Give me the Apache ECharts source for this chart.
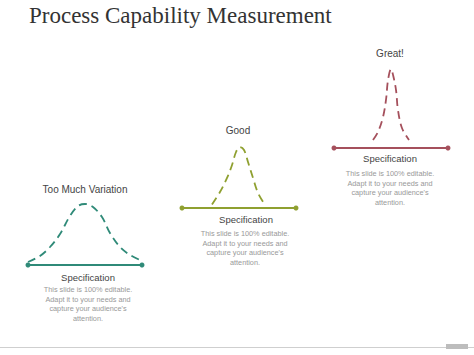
<!DOCTYPE html>
<html>
<head>
<meta charset="utf-8">
<script src="https://cdn.jsdelivr.net/npm/echarts@6/dist/echarts.min.js"></script>
<style>html,body{margin:0;padding:0;background:#fff;}#c{width:474px;height:355px;}</style>
</head>
<body>
<div id="c"></div>
<script>
// Curves: x = % across specification line, y = % of peak height
const curveTooMuch = [[0,4.9],[10.5,14.8],[19.3,29.5],[28.1,50.8],[36.8,80.3],[43.9,96.7],[50,100],[57,95],[64.9,78.7],[71.9,52.5],[80.7,29.5],[89.5,16.4],[100,6.6]];
const curveGood = [[26.3,5.7],[33.3,26.2],[39.5,49.2],[43.9,70.5],[47.4,91.8],[50.9,100],[54.4,95.1],[57.9,75.4],[62.3,49.2],[66.7,24.6],[72.8,4.9]];
const curveGreat = [[34.2,10.1],[38.6,20.3],[43,39.2],[45.6,60.8],[47.4,86.1],[50,100],[51.8,92.4],[54.4,73.4],[56.1,48.1],[59.6,25.3],[65.8,10.1]];
const specLine = [[0,0],[100,0]];
const labels = ['Too Much Variation','Good','Great!'];
const specText = 'Specification';
const descText = "This slide is 100% editable.\nAdapt it to your needs and\ncapture your audience's\nattention.";
const titleText = 'Process Capability Measurement';

const colors = ['#2f8a78','#8fa030','#a5505c'];
const curves = [curveTooMuch, curveGood, curveGreat];
const boxes = [
  {left:28, base:265, peak:204},
  {left:182, base:208, peak:147},
  {left:334, base:148, peak:69}
];
const W = 114;

const grids=[], xAxes=[], yAxes=[], series=[];
boxes.forEach((b,i)=>{
  grids.push({left:b.left, top:b.peak, width:W, height:b.base-b.peak});
  xAxes.push({type:'value', gridIndex:i, min:0, max:100, show:false});
  yAxes.push({type:'value', gridIndex:i, min:0, max:100, show:false});
  series.push({type:'line', xAxisIndex:i, yAxisIndex:i, data:curves[i], smooth:0.35, showSymbol:false, symbol:'none', clip:false,
    lineStyle:{color:colors[i], width:1.8, type:[8,5]}});
  series.push({type:'line', xAxisIndex:i, yAxisIndex:i, data:specLine, symbol:'circle', symbolSize:5, clip:false,
    itemStyle:{color:colors[i]}, lineStyle:{color:colors[i], width:2}});
});

const sans = '"Liberation Sans", Arial, sans-serif';
const labelPos = [[85,189],[238,130],[390,53]];
const specPos = [[88,277],[246,219],[390,158]];
const descPos = [[88,285],[245,229],[390,169]];
const graphic = [
  {type:'text', left:29, top:4, style:{text:titleText, fontSize:23, fontFamily:'"Liberation Serif", "Times New Roman", serif', fontWeight:'normal', fill:'#333333'}},
  {type:'line', shape:{x1:0,y1:347.5,x2:474,y2:347.5}, style:{stroke:'#cfcfcf', lineWidth:1}},
  {type:'rect', shape:{x:446,y:344,width:22,height:5}, style:{fill:'#bdbdbd'}}
];
labelPos.forEach((p,i)=>{
  graphic.push({type:'text', x:p[0], y:p[1], style:{text:labels[i], fontSize:10, fontFamily:sans, fontWeight:'normal', fill:'#444444', textAlign:'center', textVerticalAlign:'middle'}});
  graphic.push({type:'text', x:specPos[i][0], y:specPos[i][1], style:{text:specText, fontSize:9.5, fontFamily:sans, fontWeight:'normal', fill:'#444444', textAlign:'center', textVerticalAlign:'middle'}});
  graphic.push({type:'text', x:descPos[i][0], y:descPos[i][1], style:{text:descText, fontSize:7.3, fontFamily:sans, fontWeight:'normal', fill:'#999999', textAlign:'center', textVerticalAlign:'top', lineHeight:9.5}});
});

const chart = echarts.init(document.getElementById('c'), null, {renderer:'svg'});
chart.setOption({animation:false, grid:grids, xAxis:xAxes, yAxis:yAxes, series:series, graphic:graphic});
</script>
</body>
</html>
